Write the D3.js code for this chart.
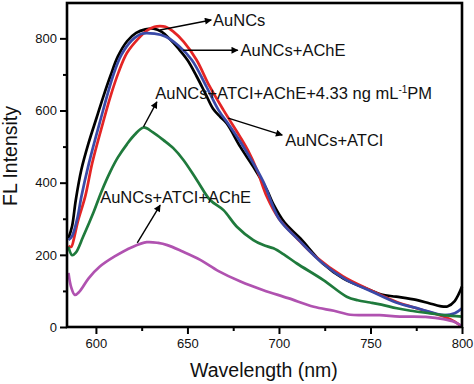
<!DOCTYPE html>
<html>
<head>
<meta charset="utf-8">
<script src="https://cdn.jsdelivr.net/npm/d3@7"></script>
<style>
  body { margin: 0; background: #fff; }
  text { font-family: "Liberation Sans", Arial, sans-serif; fill: #111; }
  .tick text { font-size: 13px; }
  .note { font-size: 16.5px; }
  .axisTitle { font-size: 19.5px; }
</style>
</head>
<body>
<div id="chart"></div>
<script>
// [wavelength nm, FL intensity]
var auncs = [[585,246],[587,280],[589,352],[592,435],[596,510],[600.5,582],[604,638],[608,697],[612,750],[617,792],
  [622,815],[627,825],[631.5,827],[636,818],[640,800],[645,772],[650,740],[655,695],[660,645],[664,605],[668,582],
  [671.5,564],[678.8,500],[686,444],[693.4,380],[697,340],[703,290],[711.6,246],[724,176],[735,135],[750,102],
  [756,90],[764,84],[775,75],[782,66],[788,58],[792,57],[796,72],[800,112]];
var auncsAche = [[585,241],[587,252],[590,305],[592,360],[596,450],[602,565],[609.6,700],[614,755],[619.7,795],
  [625,813],[632,813],[638,805],[645,780],[652.4,740],[660,670],[667,601],[673,558],[678.8,514],[685,462],
  [691.5,402],[700,300],[711,240],[724,176],[737,130],[750,100],[764,68],[777,50],[790,33],[796,38],[800,52]];
var auncsAtci = [[585,225],[586.5,222],[588,245],[590,290],[594.3,365],[598,455],[603.8,565],[608,640],
  [612.3,705],[617,760],[623.3,800],[628,822],[632,832],[635,834],[638,832],[642,820],[648,790],[655,740],
  [662,668],[669.7,601],[678.8,527],[683,490],[688,435],[693.4,361],[700,300],[709.8,246],[720,195],
  [735,140],[750,102],[764,70],[778,48],[790,29],[796,15],[800,0]];
var withPm = [[585,222],[587,199],[589,206],[593,250],[598.7,318],[603,375],[607.8,430],[612,470],[617,507],
  [621,532],[626,553],[631,540],[636.9,518],[642.4,495],[647.8,463],[655.2,407],[662.4,352],[669.7,324],
  [677,278],[686,241],[691.5,227],[697,218],[703,200],[709.8,176],[724.3,130],[737,84],[743,74],[749.8,68],
  [756,62],[764.4,52],[772,45],[782.6,38],[790,33],[800,29]];
var atciAche = [[585,150],[586.5,110],[588.5,89],[591,98],[596,135],[602,167],[610,195],[620,222],
  [627.8,235],[634,233],[639,227],[647,210],[657,186],[667,155],[679,126],[691.5,102],[705,80],[719,56],
  [730,45],[739,34],[747,33],[755,33],[766,29],[780,28],[790,22],[796,14],[800,2]];

var xTicks = [600, 650, 700, 750, 800];
var xMinor = [625, 675, 725, 775];
var yTicks = [0, 200, 400, 600, 800];
var yMinor = [100, 300, 500, 700];

var seriesList = [
  { values: auncs, color: "#000000" },
  { values: auncsAtci, color: "#e42424" },
  { values: auncsAche, color: "#3a4aa8" },
  { values: withPm, color: "#1f7a3c" },
  { values: atciAche, color: "#b052b0" }
];

var svgWidth = 474;
var svgHeight = 384;
var margin = { top: 3, right: 12, bottom: 57, left: 67 };
var width = svgWidth - margin.left - margin.right;
var height = svgHeight - margin.top - margin.bottom;

var svg = d3.select("#chart")
  .append("svg")
  .attr("width", svgWidth)
  .attr("height", svgHeight);

var defs = svg.append("defs");
defs.append("marker")
  .attr("id", "head")
  .attr("viewBox", "0 0 10 10")
  .attr("refX", 9)
  .attr("refY", 5)
  .attr("markerWidth", 9)
  .attr("markerHeight", 7)
  .attr("markerUnits", "userSpaceOnUse")
  .attr("orient", "auto")
  .append("path")
  .attr("d", "M0,0 L10,5 L0,10 z")
  .attr("fill", "#000");

var chartGroup = svg.append("g")
  .attr("transform", `translate(${margin.left}, ${margin.top})`);

var xScale = d3.scaleLinear().domain([584.2, 800]).range([0, width]);
var yScale = d3.scaleLinear().domain([0, 898]).range([height, 0]);

// minor ticks first, then major with labels
chartGroup.append("g")
  .attr("transform", `translate(0, ${height})`)
  .call(d3.axisBottom(xScale).tickValues(xMinor).tickSize(4).tickFormat(""));
chartGroup.append("g")
  .call(d3.axisLeft(yScale).tickValues(yMinor).tickSize(4).tickFormat(""));

chartGroup.append("g")
  .attr("transform", `translate(0, ${height})`)
  .call(d3.axisBottom(xScale).tickValues(xTicks).tickSize(7).tickPadding(5).tickFormat(d3.format("d")));
chartGroup.append("g")
  .call(d3.axisLeft(yScale).tickValues(yTicks).tickSize(7).tickPadding(3).tickFormat(d3.format("d")));

chartGroup.selectAll(".domain").remove();
chartGroup.selectAll(".tick line").attr("stroke", "#000").attr("stroke-width", 2);

// curves
var line = d3.line()
  .x(d => xScale(d[0]))
  .y(d => yScale(d[1]))
  .curve(d3.curveCatmullRom.alpha(0.5));

chartGroup.selectAll(".curve")
  .data(seriesList)
  .enter()
  .append("path")
  .attr("class", "curve")
  .attr("d", d => line(d.values))
  .attr("fill", "none")
  .attr("stroke", d => d.color)
  .attr("stroke-width", 2.7)
  .attr("stroke-linejoin", "round");

// frame
chartGroup.append("rect")
  .attr("x", 0)
  .attr("y", 0)
  .attr("width", width)
  .attr("height", height)
  .attr("fill", "none")
  .attr("stroke", "#000")
  .attr("stroke-width", 2.6);

// annotations
function arrow(w1, v1, w2, v2) {
  chartGroup.append("line")
    .attr("x1", xScale(w1)).attr("y1", yScale(v1))
    .attr("x2", xScale(w2)).attr("y2", yScale(v2))
    .attr("stroke", "#000")
    .attr("stroke-width", 1.4)
    .attr("marker-end", "url(#head)");
}
function note(w, v, label) {
  return chartGroup.append("text")
    .attr("class", "note")
    .attr("x", xScale(w))
    .attr("y", yScale(v))
    .attr("dy", "0.36em")
    .text(label);
}

arrow(635, 823, 663, 851);
note(664, 850, "AuNCs");

arrow(647.7, 767, 677.5, 767);
note(679, 767, "AuNCs+AChE");

arrow(626, 555, 633.3, 624);
var pm = note(632.4, 648, "AuNCs+ATCI+AChE+4.33 ng mL");
pm.append("tspan").attr("dy", -6).style("font-size", "10px").text("-1");
pm.append("tspan").attr("dy", 6).text("PM");

arrow(672.3, 579, 701.8, 532);
note(703.4, 518, "AuNCs+ATCI");

arrow(622.6, 233, 635.1, 338);
note(602.3, 360, "AuNCs+ATCI+AChE");

// axis titles
svg.append("text")
  .attr("class", "axisTitle")
  .attr("x", margin.left + xScale(700) - 15)
  .attr("y", 377)
  .attr("text-anchor", "middle")
  .text("Wavelength (nm)");

svg.append("text")
  .attr("class", "axisTitle")
  .attr("transform", "rotate(-90)")
  .attr("x", -156)
  .attr("y", 17)
  .attr("text-anchor", "middle")
  .text("FL Intensity");
</script>
</body>
</html>
